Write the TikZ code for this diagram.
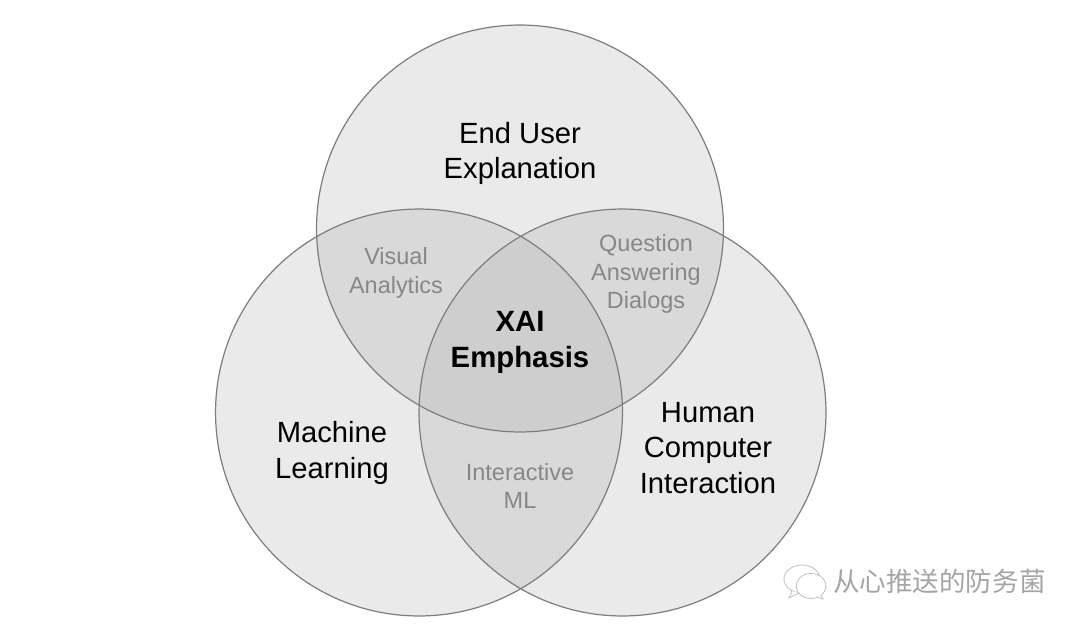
\documentclass[tikz,border=0pt]{standalone}
\usepackage{fontspec}
\setmainfont{Liberation Sans}
\newfontfamily\cjk{Noto Sans CJK SC}
\definecolor{vline}{RGB}{125,125,125}
\definecolor{subgray}{RGB}{135,135,135}
\definecolor{one}{RGB}{234,234,234}
\definecolor{two}{RGB}{217,217,217}
\definecolor{three}{RGB}{206,206,206}
\definecolor{wm}{RGB}{165,165,165}
\tikzset{
 venn/.style={circle,draw=vline,line width=0.9pt,minimum size=305.2pt,inner sep=0pt},
 main/.style={align=center,text=black,font=\fontsize{21.9}{26.5}\selectfont},
 sub/.style={align=center,text=subgray,font=\fontsize{17.6}{21.3}\selectfont},
 icon/.style={draw=wm!70,line width=0.6pt,fill=white},
}
\begin{document}
\begin{tikzpicture}[x=0.75pt,y=-0.75pt]
\useasboundingbox (0,0) rectangle (1080,628);
\fill[white] (0,0) rectangle (1080,628);
\coordinate (T) at (520,228.5);
\coordinate (L) at (419,412.5);
\coordinate (R) at (622.5,412.5);
\def\rr{203.5}
\fill[one] (T) circle [radius=\rr];
\fill[one] (L) circle [radius=\rr];
\fill[one] (R) circle [radius=\rr];
\begin{scope}\clip (T) circle [radius=\rr]; \fill[two] (L) circle [radius=\rr]; \fill[two] (R) circle [radius=\rr];\end{scope}
\begin{scope}\clip (L) circle [radius=\rr]; \fill[two] (R) circle [radius=\rr];\end{scope}
\begin{scope}\clip (T) circle [radius=\rr]; \clip (L) circle [radius=\rr]; \fill[three] (R) circle [radius=\rr];\end{scope}
\node[venn] (ct) at (T) {};
\node[venn] (cl) at (L) {};
\node[venn] (cr) at (R) {};
\node[main] (a) at (520,153.5) {End User\\Explanation};
\node[main] (b) at (332,453) {Machine\\Learning};
\node[main] (c) at (708,448) {Human\\Computer\\Interaction};
\node[main,font=\fontsize{22}{26.5}\selectfont\bfseries] (d) at (520,342.5) {XAI\\Emphasis};
\node[sub] (e) at (396,273) {Visual\\Analytics};
\node[sub] (f) at (646,274) {Question\\Answering\\Dialogs};
\node[sub] (g) at (520,486) {Interactive\\ML};
\draw[icon] (802,579) ellipse [x radius=18,y radius=14];
\draw[icon] (792,591) -- (789,598) -- (799,593);
\draw[icon] (811,586) ellipse [x radius=15,y radius=12.5];
\draw[icon] (817,597) -- (823,599) -- (821,595);
\node[text=wm,font=\cjk\fontsize{19.9}{24}\selectfont,anchor=west,inner sep=0pt] (w) at (833,581) {从心推送的防务菌};
\end{tikzpicture}
\end{document}
